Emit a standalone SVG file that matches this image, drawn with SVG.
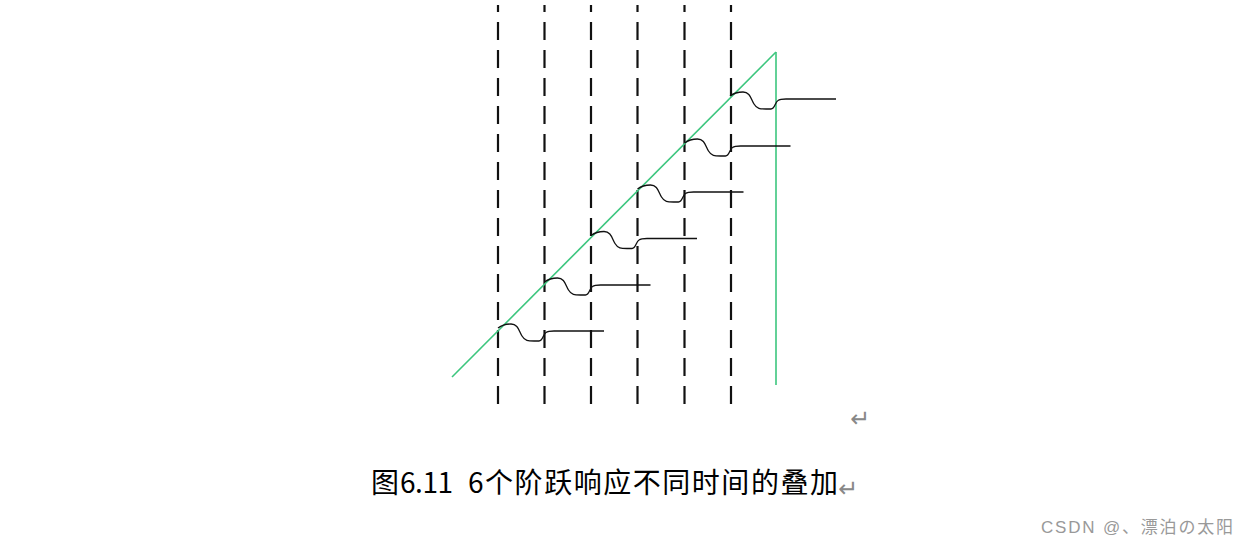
<svg xmlns="http://www.w3.org/2000/svg" width="1246" height="545" viewBox="0 0 1246 545">
<style>
.dash{stroke:#111;stroke-width:2.2;stroke-dasharray:18 10;stroke-dashoffset:11;fill:none}
.green{stroke:#3cc67e;stroke-width:1.6;fill:none}
.step{stroke:#111;stroke-width:1.3;fill:none}
.cap{font-family:"Noto Sans CJK SC","Noto Sans",sans-serif;font-size:28px;fill:#000}
.mark{fill:#888;font-family:"DejaVu Sans",sans-serif}
.wm{font-family:"Liberation Sans","Noto Sans CJK SC",sans-serif;font-size:17px;fill:#999}
</style>
<defs>
<path id="resp" d="M0,-3 C4,-6 8,-7 13,-7 C20,-7 21,0 24,5 C27,10 30,10 36,10 L41,10 C45,10 45,3 48,1.5 C50,0 52,0 56,0 L106,0"/>
</defs>
<g id="dashed-lines">
<line class="dash" x1="498" y1="5" x2="498" y2="405"/>
<line class="dash" x1="544.5" y1="5" x2="544.5" y2="405"/>
<line class="dash" x1="591" y1="5" x2="591" y2="405"/>
<line class="dash" x1="637.5" y1="5" x2="637.5" y2="405"/>
<line class="dash" x1="684.5" y1="5" x2="684.5" y2="405"/>
<line class="dash" x1="731" y1="5" x2="731" y2="405"/>
</g>
<g id="ramp">
<line class="green" x1="452" y1="377" x2="776" y2="52"/>
<line class="green" x1="776" y1="52" x2="776" y2="385"/>
</g>
<g id="responses">
<use href="#resp" class="step" x="498" y="331"/>
<use href="#resp" class="step" x="544.5" y="285"/>
<use href="#resp" class="step" x="591" y="238.5"/>
<use href="#resp" class="step" x="637.5" y="192"/>
<use href="#resp" class="step" x="684.5" y="146"/>
<use href="#resp" class="step" x="730" y="99"/>
</g>
<text class="mark" x="850" y="427" font-size="24">↵</text>
<g id="caption">
<text class="cap" y="493"><tspan x="371">图</tspan><tspan x="400" textLength="53" lengthAdjust="spacing">6.11</tspan><tspan x="468" textLength="370" lengthAdjust="spacing">6个阶跃响应不同时间的叠加</tspan></text>
<text class="mark" x="838" y="497" font-size="24">↵</text>
</g>
<text class="wm" x="1041" y="533" textLength="192" lengthAdjust="spacing">CSDN @、漂泊の太阳</text>
</svg>
